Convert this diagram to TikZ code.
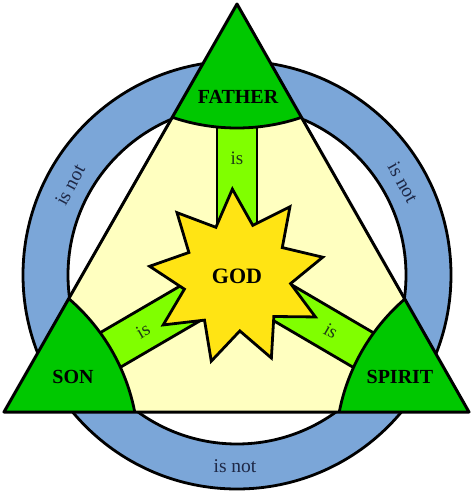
\documentclass[tikz,border=0pt]{standalone}
\usepackage{fontspec}
\setmainfont{Liberation Serif}
\definecolor{ringblue}{RGB}{123,166,216}
\definecolor{triyellow}{RGB}{255,255,192}
\definecolor{cornergreen}{RGB}{0,200,0}
\definecolor{barlime}{RGB}{128,255,0}
\definecolor{staryellow}{RGB}{255,228,20}
\definecolor{istext}{RGB}{30,60,20}
\definecolor{nottext}{RGB}{30,40,70}
\tikzset{
  outline/.style={draw=black, line width=2.8pt, line join=round},
  ringsty/.style={outline, fill=ringblue, even odd rule},
  tristy/.style={fill=triyellow},
  barsty/.style={outline, fill=barlime},
  cornersty/.style={fill=cornergreen},
  starsty/.style={outline, fill=staryellow, line width=2.8pt, line join=miter},
  persontext/.style={font=\bfseries\fontsize{20}{20}\selectfont, text=black, inner sep=0pt},
  godtext/.style={font=\bfseries\fontsize{22}{22}\selectfont, text=black, inner sep=0pt},
  istxt/.style={font=\fontsize{19}{19}\selectfont, text=istext, inner sep=0pt},
  nottxt/.style={font=\fontsize{19.5}{19.5}\selectfont, text=nottext, inner sep=0pt}
}
\begin{document}
\begin{tikzpicture}[x=1pt,y=-1pt]
\useasboundingbox[fill=white] (0,0) rectangle (474,498);
% key points
\coordinate (O) at (237,275);
\coordinate (C) at (237,276);
\coordinate (VF) at (237,4);
\coordinate (VS) at (4,412);
\coordinate (VP) at (469,412);
% ring
\path[ringsty] (O) circle (214) (O) circle (169);
% triangle fill
\fill[tristy] (VF) -- (VS) -- (VP) -- cycle;
% bars
\begin{scope}
  \clip (VF) -- (VS) -- (VP) -- cycle;
  \path[barsty] (217,276) -- (257,276) -- (257,4) -- (217,4) -- cycle;
  \path[barsty] (247.1,293.3) -- (14.1,429.3) -- (-6.1,394.7) -- (226.9,258.7) -- cycle;
  \path[barsty] (226.9,293.3) -- (458.9,429.3) -- (479.1,394.7) -- (247.1,258.7) -- cycle;
  % green corners
  \fill[cornersty] (237,-72) circle (200);
  \fill[cornersty] (-61.6,450.3) circle (200);
  \fill[cornersty] (535.6,450.3) circle (200);
  \draw[outline] (237,-72) circle (200);
  \draw[outline] (-61.6,450.3) circle (200);
  \draw[outline] (535.6,450.3) circle (200);
\end{scope}
% star
\begin{scope}[shift={(237,277)}]
  \path[starsty] (-93:88) \foreach \i in {0,...,8} { -- ({-113-40*\i}:54) -- ({-133-40*\i}:88) } -- cycle;
\end{scope}
% triangle outline
\draw[outline, line width=3pt] (VF) -- (VS) -- (VP) -- cycle;
% texts
\node[persontext] (father) at (238,97) {FATHER};
\node[persontext] (son) at (73,377) {SON};
\node[persontext] (spirit) at (400,377) {SPIRIT};
\node[godtext] (god) at (237,276) {GOD};
\node[istxt] (is1) at (237,158) {is};
\node[istxt, rotate=30] (is2) at (143,331) {is};
\node[istxt, rotate=-30] (is3) at (331,331) {is};
\node[nottxt, rotate=62] (not1) at (70,185) {is not};
\node[nottxt, rotate=-61] (not2) at (403,182) {is not};
\node[nottxt] (not3) at (235,466) {is not};
\end{tikzpicture}
\end{document}
